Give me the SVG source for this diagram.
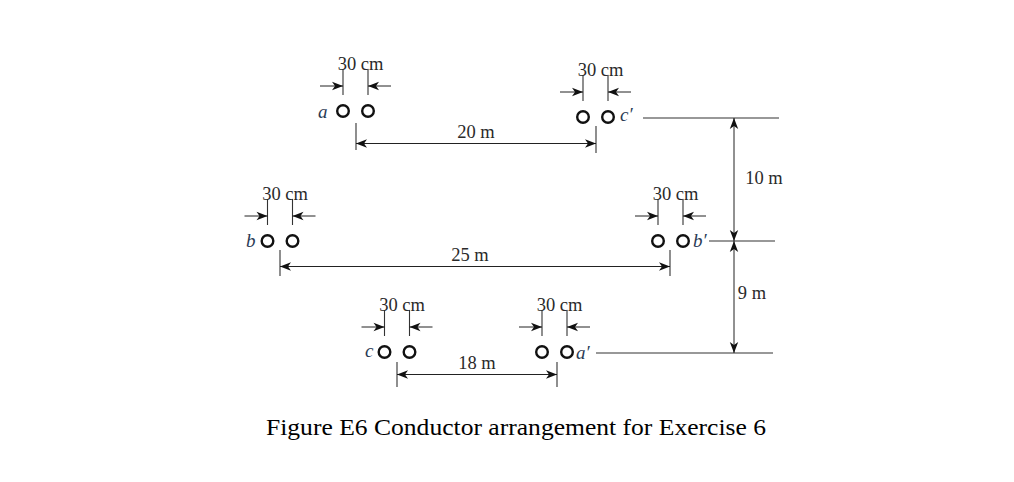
<svg xmlns="http://www.w3.org/2000/svg" width="1014" height="482" viewBox="0 0 1014 482">
<style>
text{font-family:"Liberation Serif","Times New Roman",serif;fill:#2a2a2a}
.t{font-size:18.500px;text-anchor:middle}
.l{font-size:19px;font-style:italic;fill:#2a3a55}
.cap{font-size:24px;fill:#000;text-anchor:middle}
.c{fill:none;stroke:#111;stroke-width:2.4}
.w{fill:none;stroke:#222;stroke-width:1}
.g{fill:none;stroke:#333;stroke-width:1.1}
.a{fill:#111;stroke:none}
</style>
<defs>
<path id="ar" class="a" d="M0 0L-11 -4.2L-8 0L-11 4.2Z"/>
<g id="gap">
<path class="g" d="M0 -24V2M25 -24V2"/>
<path class="w" d="M-23 -7H0M48 -7H25"/>
<use href="#ar" x="0" y="-7"/>
<use href="#ar" transform="translate(25,-7) rotate(180)"/>
<text class="t" x="17.500" y="-23">30 cm</text>
<circle class="c" cx="0" cy="18" r="5.800"/>
<circle class="c" cx="25" cy="18" r="5.800"/>
</g>
</defs>
<rect width="1014" height="482" fill="#fff"/>
<g id="node-a"><use href="#gap" x="343" y="93"/><text class="l" x="318" y="118">a</text></g>
<g id="node-c-prime"><use href="#gap" x="583" y="99"/><text class="l" x="620" y="121">c′</text></g>
<g id="node-b"><use href="#gap" x="267.500" y="223"/><text class="l" x="246" y="247">b</text></g>
<g id="node-b-prime"><use href="#gap" x="658" y="223"/><text class="l" x="693" y="247">b′</text></g>
<g id="node-c"><use href="#gap" x="384.500" y="334"/><text class="l" x="365" y="357">c</text></g>
<g id="node-a-prime"><use href="#gap" x="542" y="334"/><text class="l" x="576" y="359">a′</text></g>
<g id="connectors">
<path class="g" d="M356 123V150M596 126V153M280 250V276M670 250V276M397 362V387M557 362V387"/>
<path class="w" d="M356 143.500H596M280 266.500H670M397 374.500H557"/>
<use href="#ar" transform="translate(356,143.500) rotate(180)"/><use href="#ar" x="596" y="143.500"/>
<use href="#ar" transform="translate(280,266.500) rotate(180)"/><use href="#ar" x="670" y="266.500"/>
<use href="#ar" transform="translate(397,374.500) rotate(180)"/><use href="#ar" x="557" y="374.500"/>
<path class="g" d="M643 118H779M709 241H775M596 353H773"/>
<path class="w" d="M734 118V353"/>
<use href="#ar" transform="translate(734,118) rotate(-90)"/><use href="#ar" transform="translate(734,241) rotate(90)"/>
<use href="#ar" transform="translate(734,241) rotate(-90)"/><use href="#ar" transform="translate(734,353) rotate(90)"/>
</g>
<text class="t" x="476" y="138">20 m</text>
<text class="t" x="470" y="261">25 m</text>
<text class="t" x="477" y="369">18 m</text>
<text class="t" x="764" y="184">10 m</text>
<text class="t" x="752" y="299">9 m</text>
<text class="cap" x="516" y="435" textLength="500" lengthAdjust="spacingAndGlyphs">Figure E6 Conductor arrangement for Exercise 6</text>
</svg>
